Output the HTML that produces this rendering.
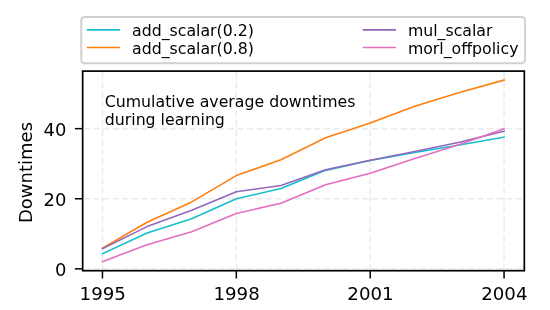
<!DOCTYPE html>
<html lang="en"><head><meta charset="utf-8"><title>Cumulative average downtimes during learning</title>
<style>
html,body{margin:0;padding:0;background:#fff;}
body{width:550px;height:310px;overflow:hidden;}
svg{display:block;}
text{font-family:"DejaVu Sans","Liberation Sans",sans-serif;fill:#000;}
</style></head><body>
<svg width="550" height="310" viewBox="0 0 550 310">
<rect x="0" y="0" width="550" height="310" fill="#ffffff"/>
<g stroke="#b0b0b0" stroke-opacity="0.25" stroke-width="1.45" stroke-dasharray="6.7 2.9" fill="none">
<line x1="102.45" y1="270.7" x2="102.45" y2="71.1"/>
<line x1="236.32" y1="270.7" x2="236.32" y2="71.1"/>
<line x1="370.20" y1="270.7" x2="370.20" y2="71.1"/>
<line x1="504.07" y1="270.7" x2="504.07" y2="71.1"/>
<line x1="83.45" y1="268.85" x2="524.33" y2="268.85"/>
<line x1="83.45" y1="198.75" x2="524.33" y2="198.75"/>
<line x1="83.45" y1="128.65" x2="524.33" y2="128.65"/>
</g>
<g fill="none" stroke-width="1.6" stroke-linejoin="round" stroke-linecap="square">
<polyline stroke="#17becf" points="102.45,253.81 147.07,233.10 191.70,218.73 236.32,198.75 280.95,188.59 325.57,170.36 370.20,160.55 414.82,152.48 459.45,144.95 504.07,137.06"/>
<polyline stroke="#ff7f0e" points="102.45,248.07 147.07,222.23 191.70,201.90 236.32,175.62 280.95,159.84 325.57,137.76 370.20,123.04 414.82,106.22 459.45,92.55 504.07,80.11"/>
<polyline stroke="#9467bd" points="102.45,248.80 147.07,226.61 191.70,210.32 236.32,191.74 280.95,185.43 325.57,169.66 370.20,160.20 414.82,151.43 459.45,142.32 504.07,131.10"/>
<polyline stroke="#e26fc0" points="102.45,261.63 147.07,244.67 191.70,231.70 236.32,213.47 280.95,203.31 325.57,184.73 370.20,173.16 414.82,158.44 459.45,144.42 504.07,128.65"/>
</g>
<g stroke="#000" stroke-width="1.5" fill="none">
<line x1="102.45" y1="270.7" x2="102.45" y2="278.5"/>
<line x1="236.32" y1="270.7" x2="236.32" y2="278.5"/>
<line x1="370.20" y1="270.7" x2="370.20" y2="278.5"/>
<line x1="504.07" y1="270.7" x2="504.07" y2="278.5"/>
<line x1="82.65" y1="268.85" x2="74.85" y2="268.85"/>
<line x1="82.65" y1="198.75" x2="74.85" y2="198.75"/>
<line x1="82.65" y1="128.65" x2="74.85" y2="128.65"/>
</g>
<rect x="82.65" y="71.1" width="441.68" height="199.60" fill="none" stroke="#000" stroke-width="1.7"/>
<g font-size="18.2px" text-anchor="middle">
<text x="102.75" y="299.9">1995</text>
<text x="236.62" y="299.9">1998</text>
<text x="370.50" y="299.9">2001</text>
<text x="504.38" y="299.9">2004</text>
</g>
<g font-size="17.95px" text-anchor="end">
<text x="66.3" y="275.85">0</text>
<text x="66.3" y="205.75">20</text>
<text x="66.3" y="135.65">40</text>
</g>
<text font-size="18.0px" text-anchor="middle" transform="translate(31.9 172.5) rotate(-90)">Downtimes</text>
<text font-size="15.75px" x="104.8" y="106.8">Cumulative average downtimes</text>
<text font-size="15.75px" x="104.8" y="124.6">during learning</text>
<rect x="81.25" y="17.0" width="443.8" height="46.2" rx="3.4" ry="3.4" fill="#fff" fill-opacity="0.8" stroke="#cccccc" stroke-opacity="0.9" stroke-width="2.0"/>
<g fill="none" stroke-width="1.6">
<line x1="86.8" y1="29.9" x2="119.9" y2="29.9" stroke="#17becf"/>
<line x1="86.8" y1="47.55" x2="119.9" y2="47.55" stroke="#ff7f0e"/>
<line x1="362.8" y1="29.9" x2="396.0" y2="29.9" stroke="#9467bd"/>
<line x1="362.8" y1="47.55" x2="396.0" y2="47.55" stroke="#e26fc0"/>
</g>
<g font-size="15.75px">
<text x="132.0" y="35.8">add_scalar(0.2)</text>
<text x="132.0" y="53.6">add_scalar(0.8)</text>
<text x="407.9" y="35.8">mul_scalar</text>
<text x="407.9" y="53.6">morl_offpolicy</text>
</g>
</svg>
</body></html>
